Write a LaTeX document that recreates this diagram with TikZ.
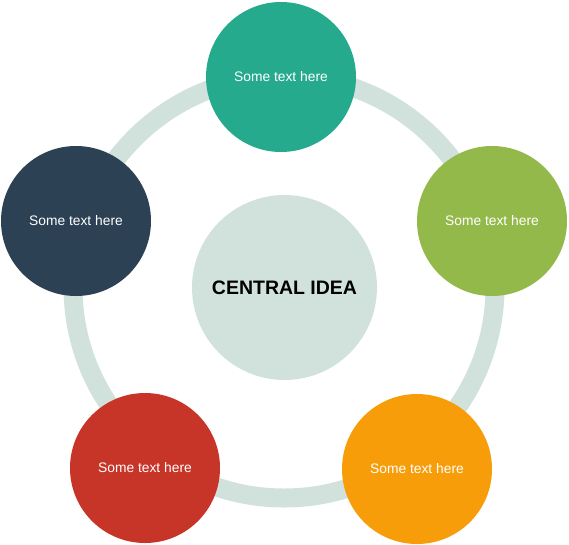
\documentclass[tikz,border=0pt]{standalone}
\usepackage{fontspec}
\setmainfont{Liberation Sans}
\definecolor{ringc}{RGB}{209,226,221}
\definecolor{tealc}{RGB}{38,170,141}
\definecolor{greenc}{RGB}{148,185,75}
\definecolor{navyc}{RGB}{45,65,85}
\definecolor{orangec}{RGB}{247,157,10}
\definecolor{redc}{RGB}{198,53,39}
\begin{document}
\begin{tikzpicture}[x=1pt,y=-1pt,
  bubble/.style={circle,minimum size=150pt,inner sep=0pt,text=white,font=\fontsize{13.8}{16}\selectfont},
  center/.style={circle,minimum size=185pt,inner sep=0pt,fill=ringc,font=\fontsize{19.5}{22}\selectfont\bfseries}]
\useasboundingbox (0,0) rectangle (569,544);
\node[circle,draw=ringc,line width=19pt,minimum size=422pt,inner sep=0pt] (ring) at (284,287) {};
\node[center] (c) at (284.5,287.5) {CENTRAL IDEA};
\node[bubble,fill=tealc] (t) at (281,77) {Some text here};
\node[bubble,fill=greenc] (r) at (492,221) {Some text here};
\node[bubble,fill=navyc] (l) at (76,221) {Some text here};
\node[bubble,fill=orangec] (br) at (417,469) {Some text here};
\node[bubble,fill=redc] (bl) at (145,468) {Some text here};
\end{tikzpicture}
\end{document}
